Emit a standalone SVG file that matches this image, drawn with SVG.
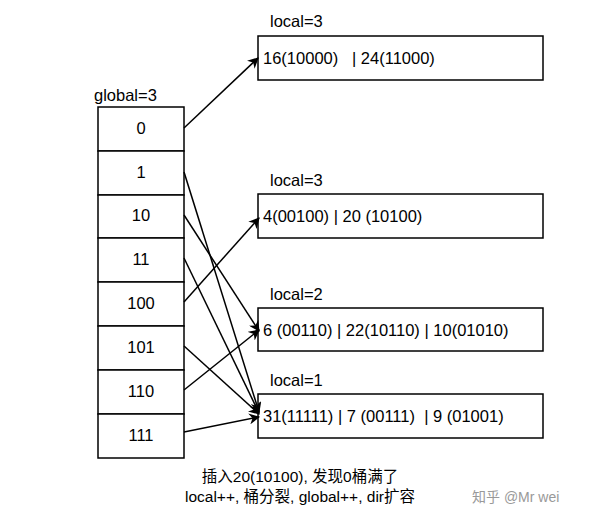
<svg xmlns="http://www.w3.org/2000/svg" width="600" height="523" viewBox="0 0 600 523">
<style>
.b{fill:#fff;stroke:#000;stroke-width:1.5}
text{font-family:"Liberation Sans","Noto Sans CJK SC",sans-serif;font-size:16.5px;fill:#000}
.c{text-anchor:middle}
.e{stroke:#000;stroke-width:1.5;fill:none;marker-end:url(#a)}
</style>
<defs><marker id="a" viewBox="0 0 10 10" refX="9" refY="5" markerWidth="11" markerHeight="11" markerUnits="userSpaceOnUse" orient="auto"><path d="M0,0L10,5L0,10L3,5Z" fill="#000"/></marker></defs>
<rect width="600" height="523" fill="#fff"/>
<g id="dir">
<text x="94" y="101">global=3</text>
<rect class="b" x="98" y="107" width="86" height="44"/><text class="c" x="141" y="134">0</text>
<rect class="b" x="98" y="151" width="86" height="44"/><text class="c" x="141" y="178">1</text>
<rect class="b" x="98" y="195" width="86" height="43"/><text class="c" x="141" y="221">10</text>
<rect class="b" x="98" y="238" width="86" height="44"/><text class="c" x="141" y="265">11</text>
<rect class="b" x="98" y="282" width="86" height="44"/><text class="c" x="141" y="309">100</text>
<rect class="b" x="98" y="326" width="86" height="44"/><text class="c" x="141" y="353">101</text>
<rect class="b" x="98" y="370" width="86" height="44"/><text class="c" x="141" y="397">110</text>
<rect class="b" x="98" y="414" width="86" height="44"/><text class="c" x="141" y="441">111</text>
</g>
<g id="b1"><text x="270" y="27">local=3</text><rect class="b" x="258" y="36" width="285" height="44"/><text x="263" y="64" xml:space="preserve">16(10000)   | 24(11000)</text></g>
<g id="b2"><text x="270" y="186">local=3</text><rect class="b" x="258" y="194" width="285" height="44"/><text x="263" y="222">4(00100) | 20 (10100)</text></g>
<g id="b3"><text x="270" y="300">local=2</text><rect class="b" x="258" y="308" width="285" height="43"/><text x="263" y="336">6 (00110) | 22(10110) | 10(01010)</text></g>
<g id="b4"><text x="270" y="386">local=1</text><rect class="b" x="258" y="394" width="285" height="44"/><text x="263" y="422" xml:space="preserve">31(11111) | 7 (00111)  | 9 (01001)</text></g>
<g id="edges">
<path class="e" d="M184,128L258,58"/>
<path class="e" d="M184,172L259,412"/>
<path class="e" d="M184,215L259,331"/>
<path class="e" d="M184,258L259,413"/>
<path class="e" d="M184,302L259,218"/>
<path class="e" d="M184,346L259,414"/>
<path class="e" d="M184,390L259,330"/>
<path class="e" d="M184,432L259,417"/>
</g>
<g id="caption"><text class="c" x="300" y="482" style="font-size:15.5px">插入20(10100), 发现0桶满了</text><text class="c" x="300" y="502" style="font-size:15.5px">local++, 桶分裂, global++, dir扩容</text></g>
<text x="472" y="502" style="fill:#999;font-size:14px">知乎 @Mr wei</text>
</svg>
